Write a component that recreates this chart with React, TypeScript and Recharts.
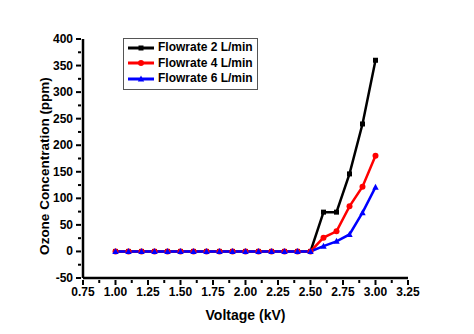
import { LineChart, Line, XAxis, YAxis, Label } from 'recharts';

const voltage = [1.0, 1.1, 1.2, 1.3, 1.4, 1.5, 1.6, 1.7, 1.8, 1.9, 2.0, 2.1, 2.2, 2.3, 2.4, 2.5, 2.6, 2.7, 2.8, 2.9, 3.0];
const flow2 = [0, 0, 0, 0, 0, 0, 0, 0, 0, 0, 0, 0, 0, 0, 0, 0, 74, 74, 146, 240, 360];
const flow4 = [0, 0, 0, 0, 0, 0, 0, 0, 0, 0, 0, 0, 0, 0, 0, 0, 26, 38, 85, 122, 180];
const flow6 = [0, 0, 0, 0, 0, 0, 0, 0, 0, 0, 0, 0, 0, 0, 0, 0, 10, 19, 32, 73, 121];

const xTicks = [0.75, 0.875, 1.0, 1.125, 1.25, 1.375, 1.5, 1.625, 1.75, 1.875, 2.0, 2.125, 2.25, 2.375, 2.5, 2.625, 2.75, 2.875, 3.0, 3.125, 3.25];
const yTicks = [-50, -25, 0, 25, 50, 75, 100, 125, 150, 175, 200, 225, 250, 275, 300, 325, 350, 375, 400];

const series = [
  { key: 'f2', name: 'Flowrate 2 L/min', color: '#000000', shape: 'square' },
  { key: 'f4', name: 'Flowrate 4 L/min', color: '#ff0000', shape: 'circle' },
  { key: 'f6', name: 'Flowrate 6 L/min', color: '#0000ff', shape: 'triangle' },
];

const data = voltage.map((v, i) => ({ v, f2: flow2[i], f4: flow4[i], f6: flow6[i] }));

const font = '"Liberation Sans", Arial, sans-serif';

function Marker({ cx, cy, color, shape }: any) {
  if (cx == null || cy == null) return null;
  if (shape === 'square') return <rect x={cx - 2.5} y={cy - 2.5} width={5} height={5} fill={color} />;
  if (shape === 'circle') return <circle cx={cx} cy={cy} r={3} fill={color} />;
  return <polygon points={`${cx},${cy - 3.5} ${cx - 3.2},${cy + 2.5} ${cx + 3.2},${cy + 2.5}`} fill={color} />;
}

function XTick({ x, y, payload }: any) {
  const major = Math.abs((payload.value * 4) % 1) < 1e-6;
  return (
    <g>
      <line x1={x} x2={x} y1={y - 6} y2={y - 6 + (major ? 5 : 3)} stroke="#000" strokeWidth={2} />
      {major && (
        <text x={x} y={y + 10} textAnchor="middle" fontFamily={font} fontWeight="bold" fontSize={12} fill="#000">
          {payload.value.toFixed(2)}
        </text>
      )}
    </g>
  );
}

function YTick({ x, y, payload }: any) {
  const major = payload.value % 50 === 0;
  return (
    <g>
      <line x1={x + 6} x2={x + 6 - (major ? 5 : 3)} y1={y} y2={y} stroke="#000" strokeWidth={2} />
      {major && (
        <text x={x - 2} y={y + 4} textAnchor="end" fontFamily={font} fontWeight="bold" fontSize={12} fill="#000">
          {payload.value}
        </text>
      )}
    </g>
  );
}

function YTitle() {
  return (
    <text x={49} y={166} transform="rotate(-90 49 166)" textAnchor="middle" fontFamily={font} fontWeight="bold" fontSize={13.5} fill="#000">
      Ozone Concentration (ppm)
    </text>
  );
}

function LegendBox() {
  return (
    <div style={{ position: 'absolute', left: 123, top: 38, border: '1px solid #555', background: '#fff', padding: '1px 4px 2px 3px', fontFamily: font, fontWeight: 'bold', fontSize: 12, lineHeight: '15.5px' }}>
      {series.map((s) => (
        <div key={s.key} style={{ display: 'flex', alignItems: 'center' }}>
          <svg width={28} height={10} style={{ marginRight: 3 }}>
            <line x1={1} x2={27} y1={5} y2={5} stroke={s.color} strokeWidth={3} />
            <Marker cx={14} cy={5} color={s.color} shape={s.shape} />
          </svg>
          <span>{s.name}</span>
        </div>
      ))}
    </div>
  );
}

export default function App() {
  return (
    <div style={{ position: 'absolute', left: 0, top: 0, width: 474, height: 334, background: '#fff' }}>
      <LineChart width={474} height={334} data={data} margin={{ top: 39, right: 66, bottom: 0, left: 28 }}>
        <XAxis
          dataKey="v"
          type="number"
          domain={[0.75, 3.25]}
          ticks={xTicks}
          interval={0}
          tickLine={false}
          axisLine={{ stroke: '#000', strokeWidth: 2.5 }}
          tick={<XTick />}
          height={56}
        >
          <Label value="Voltage (kV)" position="insideBottom" offset={14} style={{ fontFamily: font, fontWeight: 'bold', fontSize: 14, fill: '#000' }} />
        </XAxis>
        <YAxis
          type="number"
          domain={[-50, 400]}
          ticks={yTicks}
          interval={0}
          tickLine={false}
          axisLine={{ stroke: '#000', strokeWidth: 2.5 }}
          tick={<YTick />}
          width={55}
        >
          <Label content={<YTitle />} />
        </YAxis>
        {series.map((s) => (
          <Line
            key={s.key}
            dataKey={s.key}
            name={s.name}
            stroke={s.color}
            strokeWidth={2.5}
            isAnimationActive={false}
            dot={(p: any) => <Marker key={`${s.key}-${p.index}`} cx={p.cx} cy={p.cy} color={s.color} shape={s.shape} />}
            activeDot={false}
          />
        ))}
      </LineChart>
      <LegendBox />
    </div>
  );
}
